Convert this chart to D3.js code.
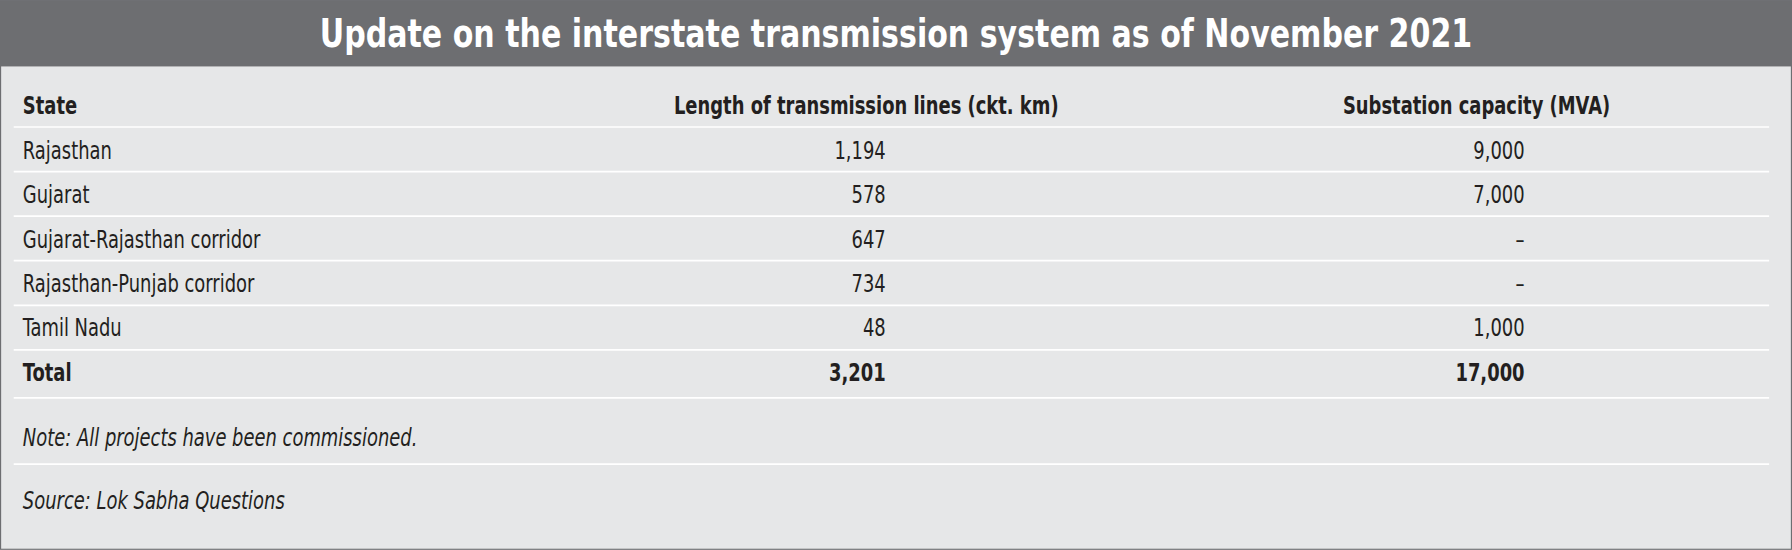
<!DOCTYPE html>
<html><head><meta charset="utf-8">
<script src="https://cdn.jsdelivr.net/npm/d3@7"></script>
<style>body{margin:0;background:#fff}svg{display:block}</style>
</head><body>
<script>
const title = "Update on the interstate transmission system as of November 2021";
const headers = ["State", "Length of transmission lines (ckt. km)", "Substation capacity (MVA)"];
const states = ["Rajasthan", "Gujarat", "Gujarat-Rajasthan corridor", "Rajasthan-Punjab corridor", "Tamil Nadu"];
const lengths = ["1,194", "578", "647", "734", "48"];
const capacities = ["9,000", "7,000", "–", "–", "1,000"];
const totalRow = ["Total", "3,201", "17,000"];
const notes = ["Note: All projects have been commissioned.", "Source: Lok Sabha Questions"];

const W = 1568, H = 481;
const svg = d3.select("body").append("svg").attr("width", 1792).attr("height", 550)
  .attr("viewBox", `0 0 ${W} ${H}`);
const font = "'DejaVu Sans Condensed','Liberation Sans Narrow',sans-serif";
svg.append("rect").attr("x", 0.5).attr("y", 0.5).attr("width", W - 1).attr("height", H - 1)
  .attr("fill", "#e6e7e8").attr("stroke", "#6d6e71");
svg.append("rect").attr("x", 0).attr("y", 0).attr("width", W).attr("height", 58).attr("fill", "#6d6e71");
svg.append("text").attr("transform", `translate(${W / 2},41) scale(0.86,1)`).attr("text-anchor", "middle")
  .attr("font-family", font).attr("font-weight", "bold").attr("font-size", 34).attr("fill", "#fff").text(title);

const rows = states.map((s, i) => [s, lengths[i], capacities[i]]);
const y = d3.scalePoint().domain(d3.range(rows.length + 2)).range([93, 326]);
const g = svg.append("g").attr("font-family", font).attr("font-size", 21).attr("fill", "#231f20");
const sx = 0.83;
function txt(x, yy, anchor, s) {
  return g.append("text").attr("transform", `translate(${x},${yy}) scale(${sx},1)`).attr("text-anchor", anchor).text(s);
}
const lines = [111, 150, 189, 228, 267, 306, 348, 406];
g.selectAll("line").data(lines).join("line").attr("x1", 12).attr("x2", 1548)
  .attr("y1", d => d).attr("y2", d => d).attr("stroke", "#fff").attr("stroke-width", 1.5);
const hx = [20, 758, 1292], ha = ["start", "middle", "middle"];
headers.forEach((h, j) => txt(hx[j], y(0) + 7, ha[j], h).attr("font-weight", "bold"));
const cx = [20, 775, 1334], ca = ["start", "end", "end"];
rows.concat([totalRow]).forEach((r, i) => {
  r.forEach((v, j) => txt(cx[j], y(i + 1) + 7, ca[j], v).attr("font-weight", i === rows.length ? "bold" : null));
});
notes.forEach((n, i) => txt(20, [390, 445][i], "start", n).attr("font-style", "italic"));
</script>
</body></html>
